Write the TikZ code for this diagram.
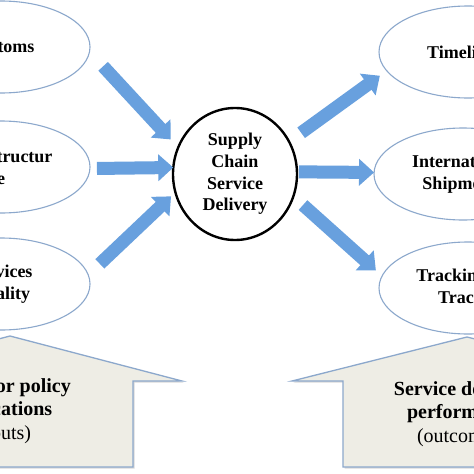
\documentclass[tikz,border=0pt]{standalone}
\usepackage{fontspec}
\setmainfont{Liberation Serif}
\usetikzlibrary{shapes.geometric,arrows.meta,shadows}
\definecolor{flowblue}{RGB}{104,160,222}
\definecolor{rimblue}{RGB}{140,168,204}
\definecolor{notefill}{RGB}{238,237,229}

\begin{document}
\begin{tikzpicture}[x=1pt,y=-1pt]
	\tikzstyle{lpi} = [draw=rimblue, line width=1.1pt, ellipse, minimum width=178pt, minimum height=92pt, inner sep=0pt, outer sep=0pt, align=center, font=\bfseries\fontsize{18}{21.5}\selectfont]
	\tikzstyle{hub} = [draw, line width=2.4pt, ellipse, minimum width=124pt, minimum height=132pt, inner sep=0pt, outer sep=0pt, align=center, font=\bfseries\fontsize{18}{21.7}\selectfont]
	\tikzstyle{flow} = [line width=13pt, draw=flowblue, -{Triangle[width=26pt,length=15pt]}]
	\tikzstyle{note} = [draw=rimblue, line width=1.3pt, fill=notefill, drop shadow={shadow xshift=1.5pt, shadow yshift=-1.5pt, opacity=0.3}]
	\tikzstyle{notetext} = [align=center, font=\fontsize{20}{23.5}\selectfont]

	\useasboundingbox (0,0) rectangle (474,474);
	\clip (0,0) rectangle (474,474);
	\fill [white] (0,0) rectangle (474,474);

	% inputs / outcomes
	\draw [note] (10,336) -- (182,381) -- (133,381) -- (133,467) -- (-113,467) -- (-113,381) -- (-162,381) -- cycle;
	\draw [note] (467,337) -- (642,381) -- (591,381) -- (591,467) -- (343,467) -- (343,381) -- (292,381) -- cycle;
	\node [notetext] (inputs) at (0,411) {\textbf{Regulator policy}\\\textbf{implications}\\(inputs)};
	\node [notetext] (outcomes) at (462,414) {\textbf{Service delivery}\\\textbf{performance}\\(outcomes)};

	\node [hub] (scd) at (235,174) {Supply\\Chain\\Service\\Delivery};

	\node [lpi] (cust) at (1,47) {Customs};
	\node [lpi] (infra) at (1,167) {Infrastructur\\e};
	\node [lpi] (serv) at (1,284) {Services\\Quality};

	\node [lpi] (time) at (468,52) {Timeliness};
	\node [lpi] (ship) at (463,174) {International\\Shipments};
	\node [lpi] (track) at (468,288) {Tracking and\\Tracing};

	\draw [flow, shorten <=20pt, shorten >=11pt] (cust.-3) -- (scd.155);
	\draw [flow, shorten <=7pt] (infra.-1) -- (scd.174);
	\draw [flow, shorten <=16pt, shorten >=6pt] (serv.6) -- (scd.197);

	\draw [flow, shorten <=15pt, shorten >=8.5pt] (scd.31) -- (time.193);
	\draw [flow, shorten <=2pt] (scd.2) -- (ship.179);
	\draw [flow, shorten <=13pt, shorten >=8.4pt] (scd.-21) -- (track.172);

\end{tikzpicture}
\end{document}
